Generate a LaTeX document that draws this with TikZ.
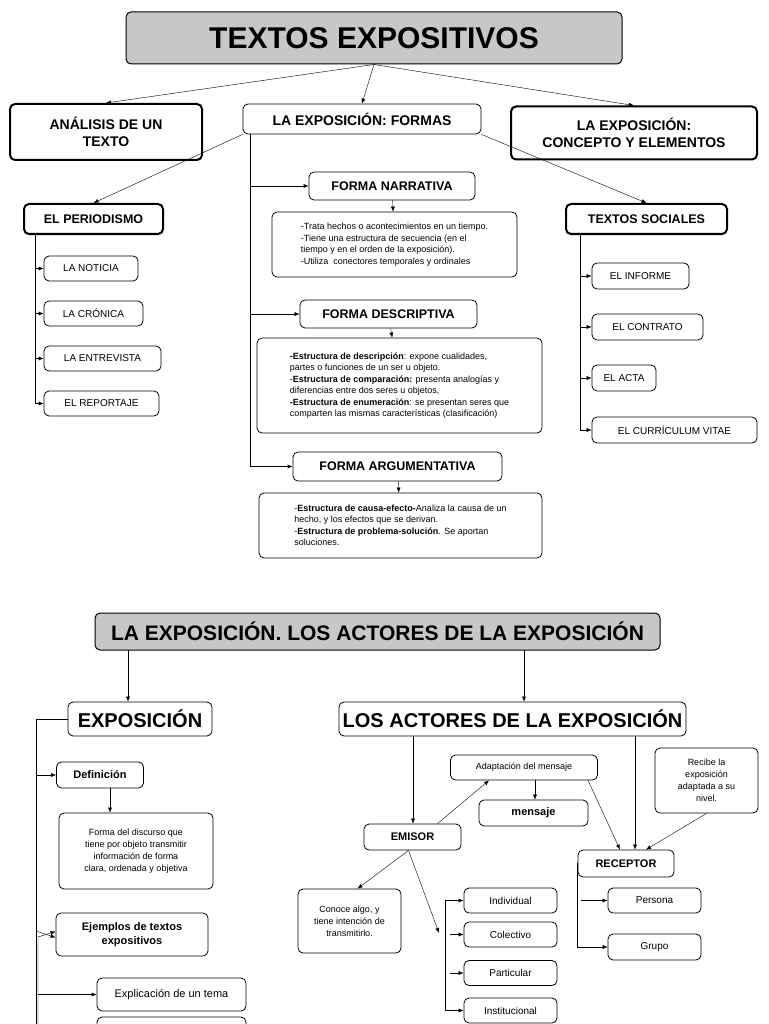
\documentclass[tikz,border=0pt]{standalone}
\usepackage{fontspec}
\setmainfont{Liberation Sans}
\usetikzlibrary{arrows.meta}
\tikzset{>={Latex[length=5pt,width=4pt]}}
\definecolor{headgray}{gray}{0.78}
\tikzset{
  box/.style={draw, rounded corners=5pt, line width=0.8pt, inner sep=0pt, align=center},
  thickbox/.style={box, line width=2pt},
  head/.style={box, fill=headgray, line width=1pt},
  txt/.style={box, align=left, font=\fontsize{9}{11.5}\selectfont},
  ctxt/.style={box, align=center, font=\fontsize{9}{12}\selectfont},
  lbl/.style={font=\fontsize{10}{12}\selectfont},
  bold/.style={font=\fontsize{12.5}{15}\selectfont\bfseries},
  wh/.style 2 args={minimum width=#1pt, minimum height=#2pt},
}
\begin{document}
\begin{tikzpicture}[x=1pt, y=-1pt]
\useasboundingbox (0,0) rectangle (768,1024);

% top map
\node[head, wh={496}{52}, font=\fontsize{30}{32}\selectfont\bfseries] (title) at (374,38) {TEXTOS EXPOSITIVOS};
\node[thickbox, wh={192}{56}, font=\fontsize{14}{17}\selectfont\bfseries] (analisis) at (106,132) {ANÁLISIS DE UN\\TEXTO};
\node[box, wh={238}{30}, font=\fontsize{14}{17}\selectfont\bfseries] (formas) at (362,119) {LA EXPOSICIÓN: FORMAS};
\node[thickbox, wh={246}{53}, font=\fontsize{14}{17}\selectfont\bfseries] (concepto) at (634,133) {LA EXPOSICIÓN:\\CONCEPTO Y ELEMENTOS};

\draw[->] (title.south) -- (analisis.north);
\draw[->] (title.south) -- (formas.north);
\draw[->] (title.south) -- (concepto.north);

% el periodismo
\node[thickbox, wh={139}{30}, bold] (periodismo) at (93.5,219) {EL PERIODISMO};
\node[box, wh={94}{25}, lbl] (noticia) at (91,268.5) {LA NOTICIA};
\node[box, wh={99}{25}, lbl] (cronica) at (93.5,313.5) {LA CRÓNICA};
\node[box, wh={117}{25}, lbl] (entrevista) at (102.5,358.5) {LA ENTREVISTA};
\node[box, wh={115}{25}, lbl] (reportaje) at (101.5,403.5) {EL REPORTAJE};
\coordinate (per_top) at (35,234);
\draw (per_top) -- (35,403.5);
\foreach \n in {noticia, cronica, entrevista, reportaje}{
    \draw[->] (35,0 |- \n.west) -- (\n.west);
}
\draw[->] (formas.south west) -- (periodismo.north);

% formas
\node[box, wh={166}{28}, bold] (narrativa) at (392,186) {FORMA NARRATIVA};
\node[txt, wh={245}{65}] (narr_txt) at (394.5,244.5) {-Trata hechos o acontecimientos en un tiempo.\\-Tiene una estructura de secuencia (en el\\tiempo y en el orden de la exposición).\\-Utiliza\ \ conectores temporales y ordinales};
\node[box, wh={177}{28}, bold] (descriptiva) at (388.5,314) {FORMA DESCRIPTIVA};
\node[txt, wh={285}{95}] (desc_txt) at (399.5,385.5) {\textbf{-Estructura de descripción}: expone cualidades,\\partes o funciones de un ser u objeto.\\-\textbf{Estructura de comparación:} presenta analogías y\\diferencias entre dos seres u objetos,\\\textbf{-Estructura de enumeración}: se presentan seres que\\comparten las mismas características (clasificación)};
\node[box, wh={209}{29}, bold] (argumentativa) at (397.5,466.5) {FORMA ARGUMENTATIVA};
\node[txt, wh={283}{65}] (arg_txt) at (400.5,525.5) {-\textbf{Estructura de causa-efecto-}Analiza la causa de un\\hecho, y los efectos que se derivan.\\-\textbf{Estructura de problema-solución}. Se aportan\\soluciones.};
\coordinate (formas_leg) at (250,134);
\draw (formas_leg) -- (250,466.5);
\foreach \n in {narrativa, descriptiva, argumentativa}{
    \draw[->] (250,0 |- \n.west) -- (\n.west);
}
\draw[->] (narrativa) -- (narr_txt);
\draw[->] (descriptiva) -- (desc_txt);
\draw[->] (argumentativa) -- (arg_txt);

% textos sociales
\node[thickbox, wh={161}{30}, bold] (sociales) at (646.5,219) {TEXTOS SOCIALES};
\node[box, wh={97}{26}, lbl] (informe) at (640.5,276) {EL INFORME};
\node[box, wh={111}{26}, lbl] (contrato) at (647.5,327) {EL CONTRATO};
\node[box, wh={64}{26}, lbl] (acta) at (624,378) {EL ACTA};
\node[box, wh={165}{26}, lbl] (curriculum) at (674.5,430) {EL CURRÍCULUM VITAE};
\coordinate (soc_top) at (580,234);
\draw (soc_top) -- (580,430);
\foreach \n in {informe, contrato, acta, curriculum}{
    \draw[->] (580,0 |- \n.west) -- (\n.west);
}
\draw[->] (formas.south east) -- (sociales.north);

% bottom map
\node[head, wh={565}{37}, font=\fontsize{21}{24}\selectfont\bfseries] (title_b) at (377.5,631.5) {LA EXPOSICIÓN. LOS ACTORES DE LA EXPOSICIÓN};
\node[box, wh={144}{34}, font=\fontsize{20}{22}\selectfont\bfseries] (exposicion) at (140,719) {EXPOSICIÓN};
\node[box, wh={347}{34}, font=\fontsize{20}{22}\selectfont\bfseries] (actores) at (512.5,719) {LOS ACTORES DE LA EXPOSICIÓN};
\draw[->] (128,650) -- (128,0 |- exposicion.north);
\draw[->] (524,650) -- (524,0 |- actores.north);

% exposicion
\node[box, wh={87}{26}, font=\fontsize{11}{13}\selectfont\bfseries] (definicion) at (100,775) {Definición};
\node[ctxt, wh={154}{76}] (def_txt) at (136,851) {Forma del discurso que\\tiene por objeto transmitir\\información de forma\\clara, ordenada y objetiva};
\node[box, wh={152}{43}, font=\fontsize{11}{14}\selectfont\bfseries] (ejemplos) at (132,934.5) {Ejemplos de textos\\expositivos};
\node[box, wh={149}{33}, font=\fontsize{11}{13}\selectfont] (explicacion) at (171.5,994.5) {Explicación de un tema};
\node[box, wh={149}{26}] (siguiente) at (171.5,1030) {};
\draw (exposicion.west) -- (36,719) -- (36,1024);
\draw[->] (36,775) -- (definicion.west);
\draw[->] (36,931) -- ([yshift=-3pt]ejemplos.west);
\draw[->] (38,1024) -- (38,937) -- ([yshift=3pt]ejemplos.west);
\draw[->] (38,0 |- explicacion.west) -- (explicacion.west);
\draw[->] (110,0 |- definicion.south) -- (110,0 |- def_txt.north);

% actores
\node[box, wh={97}{26}, font=\fontsize{11}{13}\selectfont\bfseries] (emisor) at (412.5,837) {EMISOR};
\node[ctxt, wh={147}{25}] (adaptacion) at (524,767.5) {Adaptación del mensaje};
\node[box, wh={109}{26}, font=\fontsize{11}{13}\selectfont\bfseries] (mensaje) at (533.5,813) {mensaje};
\node[ctxt, wh={103}{65}] (recibe) at (706.5,780.5) {Recibe la\\exposición\\adaptada a su\\nivel.};
\node[box, wh={96}{27}, font=\fontsize{11}{13}\selectfont\bfseries] (receptor) at (626,863.5) {RECEPTOR};
\node[ctxt, wh={103}{64}] (conoce) at (349.5,921) {Conoce algo, y\\tiene intención de\\transmitirlo.};
\draw[->] (413,736) -- (413,0 |- emisor.north);
\draw[->] (635,736) -- (635,0 |- receptor.north);
\draw[->] ([xshift=25pt]emisor.north) -- ([xshift=-35pt]adaptacion.south);
\draw[->] (535,0 |- adaptacion.south) -- (535,0 |- mensaje.north);
\draw[->] ([xshift=64pt]adaptacion.south) -- ([xshift=-6pt]receptor.north);
\draw[->] (recibe.south) -- ([xshift=20pt]receptor.north);
\draw[->] ([xshift=-4pt]emisor.south) -- ([xshift=8pt]conoce.north);

% tipos de emisor
\node[box, wh={93}{25}, lbl] (individual) at (510.5,900.5) {Individual};
\node[box, wh={93}{25}, lbl] (colectivo) at (510.5,934.5) {Colectivo};
\node[box, wh={93}{25}, lbl] (particular) at (510.5,973) {Particular};
\node[box, wh={93}{25}, lbl] (institucional) at (510.5,1010.5) {Institucional};
\coordinate (emi_leg) at (439,933);
\draw[->] ([xshift=-4pt]emisor.south) -- (emi_leg);
\draw[->] (445,1010.5) -- (445,900.5) -- (individual.west);
\draw[->] (445,0 |- institucional.west) -- (institucional.west);
\draw[->] (450,0 |- colectivo.west) -- (colectivo.west);
\draw[->] (450,0 |- particular.west) -- (particular.west);

% tipos de receptor
\node[box, wh={93}{25}, lbl] (persona) at (654.5,900.5) {Persona};
\node[box, wh={93}{26}, lbl] (grupo) at (654.5,947) {Grupo};
\draw (receptor.west) -- (577,0 |- receptor.west) -- (577,947);
\draw[->] (577,947) -- (grupo.west);
\draw[->] (581,900.5) -- (persona.west);
\end{tikzpicture}
\end{document}
